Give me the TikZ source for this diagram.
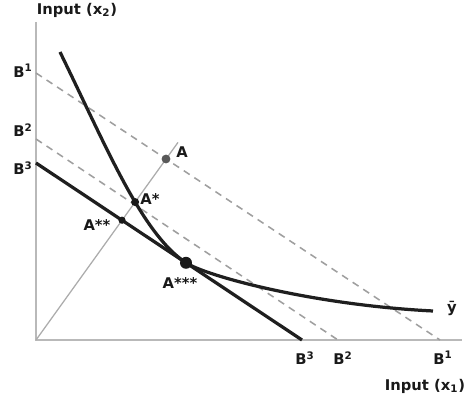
\documentclass[tikz,border=0pt]{standalone}
\usepackage{fontspec}
\setmainfont{DejaVu Sans}
\usetikzlibrary{calc,intersections}

\begin{document}
\begin{tikzpicture}[
  axis/.style={gray!55, line width=1.2pt},
  budget/.style={gray!75, dash pattern=on 5pt off 4pt, line width=1.1pt},
  ray/.style={gray!65, line width=0.9pt},
  heavy/.style={black!88, line width=2.3pt},
  lbl/.style={font=\bfseries\fontsize{10.5}{12}\selectfont, text=black!90, inner sep=0pt}
]
  \useasboundingbox (-0.9,-1.6) rectangle (10.95,8.5);

  % Axes
  \coordinate (O) at (0,0);
  \coordinate (Ytop) at (0,7.95);
  \coordinate (Xend) at (10.65,0);
  \draw[axis] (Ytop) -- (O) -- (Xend);
  \node[lbl] (ylab) at (1.025,8.25) {Input (x\textsubscript{2})};
  \node[lbl] (xlab) at (9.725,-1.15) {Input (x\textsubscript{1})};

  % Budget lines B1, B2 (dashed) and B3 (solid)
  \coordinate (B1y) at (0,6.675);
  \coordinate (B1x) at (10.1,0);
  \coordinate (B2y) at (0,5.025);
  \coordinate (B2x) at (7.55,0);
  \coordinate (B3y) at (0,4.425);
  \coordinate (B3x) at (6.65,0);
  \draw[budget] (B1y) -- (B1x);
  \draw[budget] (B2y) -- (B2x);

  % Ray from the origin through A
  \coordinate (A) at (3.25,4.525);
  \coordinate (R) at (3.55,4.94);
  \draw[ray, name path=ray] (O) -- (R);

  \draw[heavy] (B3y) -- (B3x);

  % Isoquant y-bar, tangent to B3 at A***
  \coordinate (A3) at (3.75,1.93);
  \draw[heavy, name path=isoquant] (0.6,7.2)
    .. controls (1.8,4.74) and (2.65,2.66) .. (A3)
    .. controls (4.25,1.6) and (6.925,0.875) .. (9.925,0.725);

  % Points
  \path[name intersections={of=ray and isoquant, by=A1}];
  \coordinate (A2) at (intersection of O--A and B3y--B3x);
  \fill[black!65] (A) circle (0.11);
  \fill[black!90] (A1) circle (0.1);
  \fill[black!90] (A2) circle (0.09);
  \fill[black!90] (A3) circle (0.15);

  % Labels
  \node[lbl] (lA)   at (3.65,4.7)   {A};
  \node[lbl] (lA1)  at (2.85,3.525) {A*};
  \node[lbl] (lA2)  at (1.525,2.875) {A**};
  \node[lbl] (lA3)  at (3.6,1.425)  {A***};
  \node[lbl] (lybar) at (10.4,0.8)  {\=y};

  \node[lbl] (lB1y) at (-0.325,6.725) {B\textsuperscript{1}};
  \node[lbl] (lB2y) at (-0.325,5.25)  {B\textsuperscript{2}};
  \node[lbl] (lB3y) at (-0.325,4.3)   {B\textsuperscript{3}};
  \node[lbl] (lB3x) at (6.725,-0.45)  {B\textsuperscript{3}};
  \node[lbl] (lB2x) at (7.675,-0.45)  {B\textsuperscript{2}};
  \node[lbl] (lB1x) at (10.175,-0.45) {B\textsuperscript{1}};
\end{tikzpicture}
\end{document}
